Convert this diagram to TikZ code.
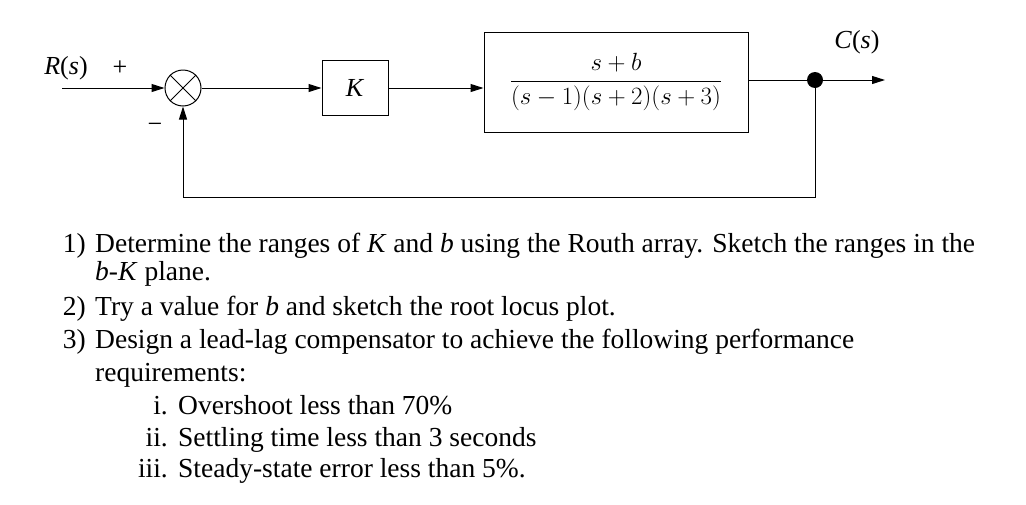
\documentclass[tikz,border=0pt]{standalone}
\usepackage{fontspec}
\setmainfont{Liberation Serif}
\usetikzlibrary{arrows.meta}
\begin{document}
\begin{tikzpicture}[x=1pt,y=-1pt,
  every node/.style={font=\fontsize{26}{30}\selectfont},
  txt/.style={font=\fontsize{27.5}{30}\selectfont,anchor=base west,inner sep=0pt},
  sig/.style={line width=1pt,-{Triangle[length=13pt,width=8pt]}},
  wire/.style={line width=1pt},
  blk/.style={draw,line width=1pt,inner sep=0pt}]
\useasboundingbox (0,0) rectangle (1026,504);
\node (R) at (66,68) {\textit{R}(\textit{s})};
\node at (120,68) {+};
\node at (155,128) {−};
\coordinate (in) at (62,88);
\node[draw,circle,line width=1pt,minimum size=36pt,inner sep=0pt] (sum) at (183,88) {};
\draw[wire] (sum.45) -- (sum.225) (sum.135) -- (sum.315);
\node[blk,minimum width=66pt,minimum height=55pt] (K) at (355,88) {\textit{K}};
\node[blk,minimum width=264pt,minimum height=100pt] (G) at (616,82) {\fontsize{29}{32}\selectfont$\displaystyle\frac{s+b}{(s-1)(s+2)(s+3)}$};
\fill (815,80) circle (8pt) coordinate (dot);
\coordinate (out) at (885,80);
\node at (857,42) {\textit{C}(\textit{s})};
\draw[sig] (in) -- (sum.west);
\draw[sig] (sum.east) -- (K.west);
\draw[sig] (K.east) -- (G.west|-K.east);
\draw[wire] (G.east|-dot) -- (dot);
\draw[sig] (dot) -- (out);
\coordinate (fb) at (815,197);
\draw[sig] (dot) -- (fb) -- (sum.south|-fb) -- (sum.south);
\node[txt,anchor=base east] at (86,252) {1)};
\node[txt] at (95,252) {Determine the ranges of \textit{K} and \textit{b} using the Routh array. Sketch the ranges in the};
\node[txt] at (95,280) {\textit{b}-\textit{K} plane.};
\node[txt,anchor=base east] at (86,315) {2)};
\node[txt] at (95,315) {Try a value for \textit{b} and sketch the root locus plot.};
\node[txt,anchor=base east] at (86,348) {3)};
\node[txt] at (95,348) {Design a lead-lag compensator to achieve the following performance};
\node[txt] at (95,381) {requirements:};
\node[txt,anchor=base east] at (168,414) {i.};
\node[txt] at (178,414) {Overshoot less than 70\%};
\node[txt,anchor=base east] at (168,446) {ii.};
\node[txt] at (178,446) {Settling time less than 3 seconds};
\node[txt,anchor=base east] at (168,477) {iii.};
\node[txt] at (178,477) {Steady-state error less than 5\%.};
\end{tikzpicture}
\end{document}
